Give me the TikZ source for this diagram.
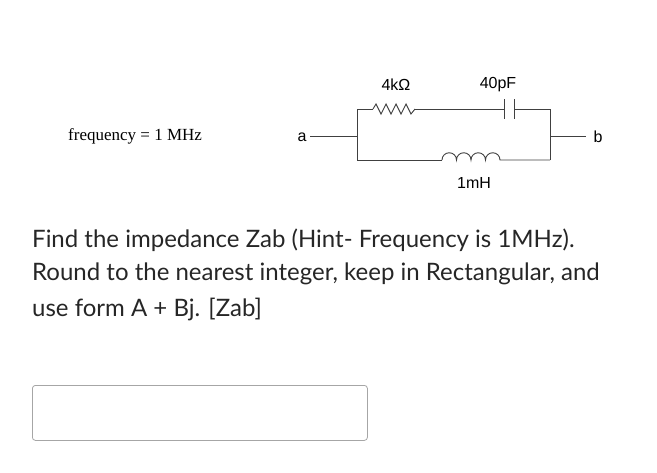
\documentclass[tikz,border=0pt]{standalone}
\usepackage{fontspec}
\setmainfont{Lato}
\newfontfamily\serifx{Liberation Serif}
\newfontfamily\sansx{Liberation Sans}
\begin{document}
\begin{tikzpicture}[x=1pt,y=-1pt,
  wire/.style={line width=0.9pt,draw=black!75},
  lbl/.style={inner sep=0pt,font=\sansx\fontsize{16}{18}\selectfont},
  txt/.style={anchor=west,inner sep=0pt,text=black!85,font=\fontsize{24}{28}\selectfont}]
\useasboundingbox (0,0) rectangle (657,472);
\node[anchor=west,inner sep=0pt,font=\serifx\fontsize{17}{19}\selectfont] (f) at (68,136) {frequency = 1 MHz};
\node[lbl] (a) at (302,137) {a};
\node[lbl] (b) at (598,137) {b};
\coordinate (aw) at (310,136);
\coordinate (l) at (357,136);
\coordinate (lt) at (357,109);
\coordinate (lb) at (357,160);
\coordinate (r) at (550,136);
\coordinate (rt) at (550,109);
\coordinate (rb) at (550,160);
\coordinate (bw) at (586,136);
\coordinate (rs) at (373,109);
\coordinate (re) at (415,109);
\coordinate (c1) at (504,109);
\coordinate (c2) at (514,109);
\coordinate (is) at (442,160);
\coordinate (ie) at (500,160);
\draw[wire] (aw) -- (l) (lt) -- (lb) (rt) -- (rb) (r) -- (bw);
\draw[wire] (lt) -- (rs);
\draw[wire] (rs) -- ++(3,-5) -- ++(5,10) -- ++(5,-10) -- ++(5,10) -- ++(5,-10) -- ++(5,10) -- ++(5,-10) -- ++(5,10) -- (re);
\draw[wire] (re) -- (c1) (c1) ++(0,-10) -- ++(0,20) (c2) ++(0,-10) -- ++(0,20) (c2) -- (rt);
\draw[wire] (lb) -- (is);
\draw[wire] (is) arc[start angle=180,end angle=360,radius=7.25] arc[start angle=180,end angle=360,radius=7.25] arc[start angle=180,end angle=360,radius=7.25] arc[start angle=180,end angle=360,radius=7.25] -- (rb);
\node[lbl] (R) at (396,85) {4kΩ};
\node[lbl] (C) at (498,85) {40pF};
\node[lbl] (L) at (474,183) {1mH};
\node[txt] (t1) at (32,240) {Find the impedance Zab (Hint- Frequency is 1MHz).};
\node[txt] (t2) at (32,274) {Round to the nearest integer, keep in Rectangular, and};
\node[txt] (t3) at (32,309) {use form A + Bj. [Zab]};
\node[draw=black!35,rounded corners=3pt,line width=0.8pt,minimum width=335pt,minimum height=55pt,anchor=north west,inner sep=0pt] (box) at (32,385) {};
\end{tikzpicture}
\end{document}
